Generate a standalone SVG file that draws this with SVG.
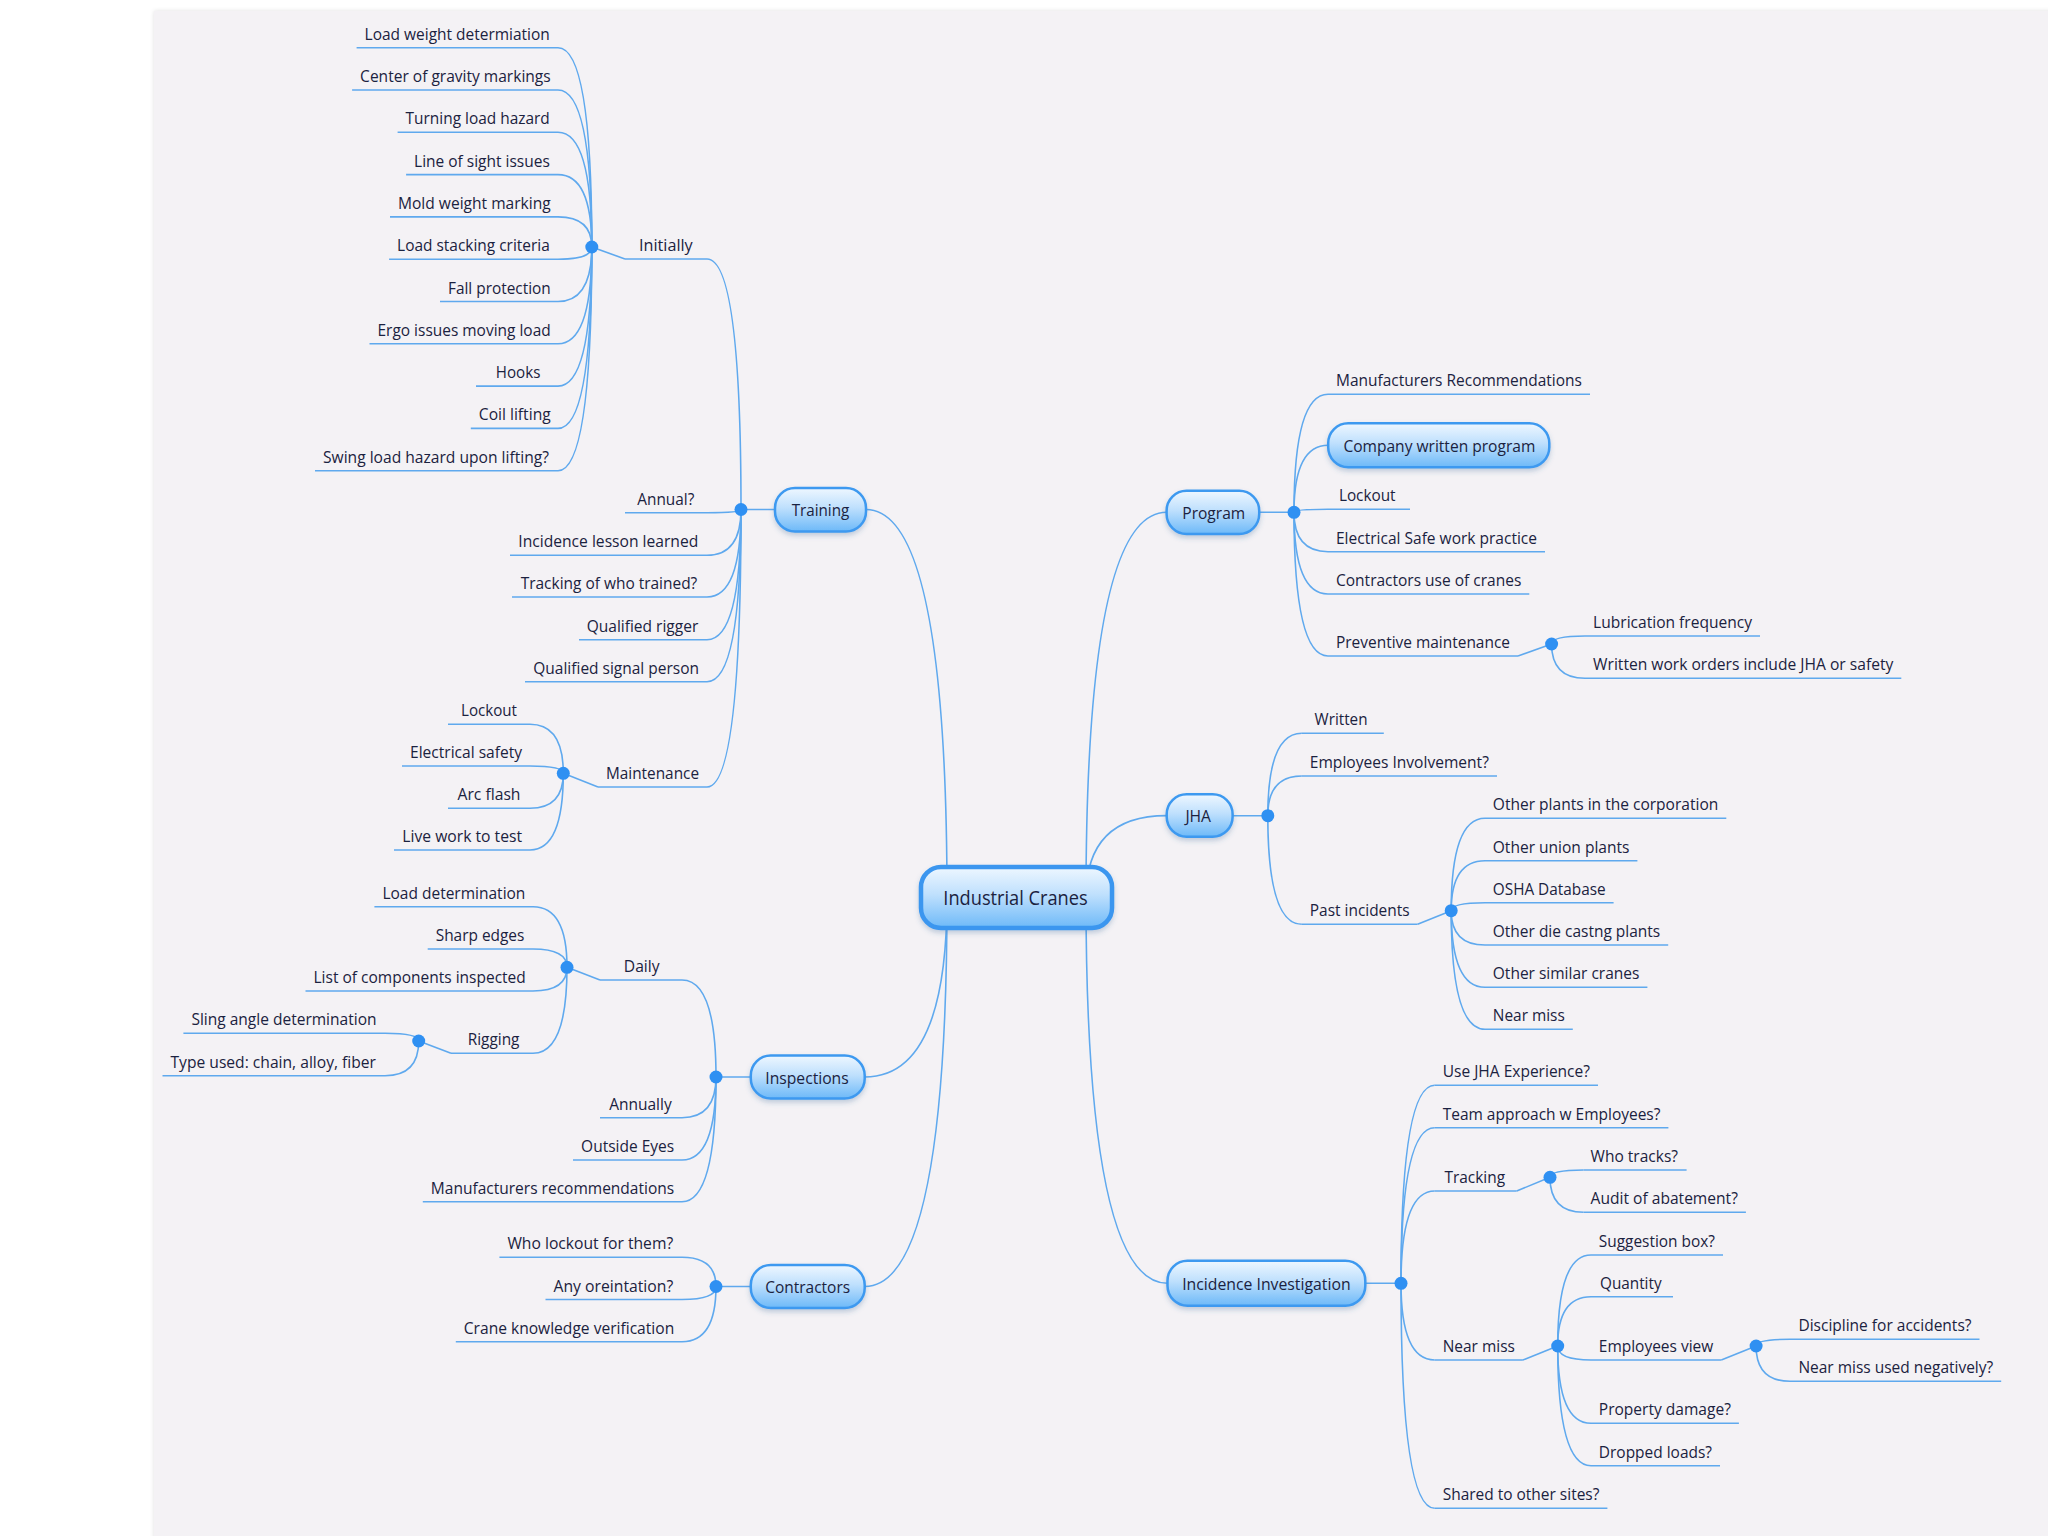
<svg xmlns="http://www.w3.org/2000/svg" width="2048" height="1536" viewBox="0 0 2048 1536">
<defs>
<linearGradient id="gBox" x1="0" y1="0" x2="0" y2="1">
<stop offset="0" stop-color="#eef7ff"/>
<stop offset="0.45" stop-color="#bfe0fd"/>
<stop offset="1" stop-color="#6db9f8"/>
</linearGradient>
<filter id="sh" x="-20%" y="-30%" width="140%" height="170%">
<feDropShadow dx="0" dy="3" stdDeviation="2.5" flood-color="#3a6a9a" flood-opacity="0.28"/>
</filter>
<filter id="bgsh" x="-5%" y="-5%" width="110%" height="110%">
<feDropShadow dx="0" dy="0" stdDeviation="2" flood-color="#000" flood-opacity="0.12"/>
</filter>
</defs>
<style>
.t{font-family:"Open Sans","Noto Sans","DejaVu Sans",sans-serif;font-size:16.5px;fill:#1b2240}
.tc{font-family:"Open Sans","Noto Sans","DejaVu Sans",sans-serif;font-size:20px;fill:#1b2240}
.ul{stroke:#5fa9ee;stroke-width:1.6;fill:none}
.c{stroke:#5fa9ee;stroke-width:1.6;fill:none}
.dot{fill:#2f90f2}
.box{fill:url(#gBox);stroke:#3d99f0;stroke-width:2.5;filter:url(#sh)}
.boxc{fill:url(#gBox);stroke:#3a96ef;stroke-width:4.5;filter:url(#sh)}
</style>
<rect x="0" y="0" width="2048" height="1536" fill="#ffffff"/>
<rect x="154" y="11" width="1900" height="1530" fill="#f4f2f5" filter="url(#bgsh)"/>

<g id="connectors">
<!-- main branches -->
<path class="c" d="M947,897.5 Q947,509.5 866,509.5"/>
<path class="c" d="M947,897.5 Q947,1077 864.7,1077"/>
<path class="c" d="M947,897.5 Q947,1286.5 864.7,1286.5"/>
<path class="c" d="M1086,897.5 Q1086,512.3 1166.6,512.3"/>
<path class="c" d="M1086,897.5 Q1086,815.6 1166.7,815.6"/>
<path class="c" d="M1086,897.5 Q1086,1283.3 1167.5,1283.3"/>
<!-- level1 to junction -->
<path class="c" d="M775,509.5 H741"/>
<path class="c" d="M750.8,1077 H716"/>
<path class="c" d="M750.8,1286.5 H716"/>
<path class="c" d="M1259.2,512.3 H1294"/>
<path class="c" d="M1232.6,815.7 H1267.8"/>
<path class="c" d="M1365.3,1283.3 H1401"/>
<!-- Training children -->
<path class="c" d="M741,509.5 Q741,259 707,259"/>
<path class="c" d="M741,509.5 Q741,512.7 707,512.7"/>
<path class="c" d="M741,509.5 Q741,555.3 707,555.3"/>
<path class="c" d="M741,509.5 Q741,597 707,597"/>
<path class="c" d="M741,509.5 Q741,639.7 707,639.7"/>
<path class="c" d="M741,509.5 Q741,681.7 707,681.7"/>
<path class="c" d="M741,509.5 Q741,787 707,787"/>
<!-- Initially children -->
<path class="c" d="M625,259 L591.8,247"/>
<path class="c" d="M591.8,247 Q591.8,47.7 558,47.7"/>
<path class="c" d="M591.8,247 Q591.8,90 558,90"/>
<path class="c" d="M591.8,247 Q591.8,132.3 558,132.3"/>
<path class="c" d="M591.8,247 Q591.8,174.6 558,174.6"/>
<path class="c" d="M591.8,247 Q591.8,216.9 558,216.9"/>
<path class="c" d="M591.8,247 Q591.8,259.2 558,259.2"/>
<path class="c" d="M591.8,247 Q591.8,301.5 558,301.5"/>
<path class="c" d="M591.8,247 Q591.8,343.8 558,343.8"/>
<path class="c" d="M591.8,247 Q591.8,386.1 558,386.1"/>
<path class="c" d="M591.8,247 Q591.8,428.4 558,428.4"/>
<path class="c" d="M591.8,247 Q591.8,470.7 558,470.7"/>
<!-- Maintenance children -->
<path class="c" d="M598,787 L563.3,773.3"/>
<path class="c" d="M563.3,773.3 Q563.3,724.3 530,724.3"/>
<path class="c" d="M563.3,773.3 Q563.3,766 530,766"/>
<path class="c" d="M563.3,773.3 Q563.3,808.3 530,808.3"/>
<path class="c" d="M563.3,773.3 Q563.3,850 530,850"/>
<!-- Inspections children -->
<path class="c" d="M716,1077 Q716,980 682,980"/>
<path class="c" d="M716,1077 Q716,1117.7 682,1117.7"/>
<path class="c" d="M716,1077 Q716,1160 682,1160"/>
<path class="c" d="M716,1077 Q716,1201.7 682,1201.7"/>
<!-- Daily children -->
<path class="c" d="M600,980 L567,967.3"/>
<path class="c" d="M567,967.3 Q567,906.7 533,906.7"/>
<path class="c" d="M567,967.3 Q567,949 533,949"/>
<path class="c" d="M567,967.3 Q567,991 533,991"/>
<path class="c" d="M567,967.3 Q567,1053.3 533,1053.3"/>
<!-- Rigging children -->
<path class="c" d="M451,1053.3 L418.7,1041"/>
<path class="c" d="M418.7,1041 Q418.7,1033.3 385,1033.3"/>
<path class="c" d="M418.7,1041 Q418.7,1075.7 385,1075.7"/>
<!-- Contractors children -->
<path class="c" d="M716,1286.5 Q716,1257.3 682,1257.3"/>
<path class="c" d="M716,1286.5 Q716,1299.5 682,1299.5"/>
<path class="c" d="M716,1286.5 Q716,1341.7 682,1341.7"/>
<!-- Program children -->
<path class="c" d="M1294,512.3 Q1294,394.3 1328,394.3"/>
<path class="c" d="M1294,512.3 Q1294,445.3 1328.2,445.3"/>
<path class="c" d="M1294,512.3 Q1294,509.3 1328,509.3"/>
<path class="c" d="M1294,512.3 Q1294,551.7 1328,551.7"/>
<path class="c" d="M1294,512.3 Q1294,594 1328,594"/>
<path class="c" d="M1294,512.3 Q1294,656 1328,656"/>
<!-- Preventive maintenance children -->
<path class="c" d="M1518,656 L1551.6,644"/>
<path class="c" d="M1551.6,644 Q1551.6,636 1585,636"/>
<path class="c" d="M1551.6,644 Q1551.6,678.3 1585,678.3"/>
<!-- JHA children -->
<path class="c" d="M1267.8,815.7 Q1267.8,733.3 1301.8,733.3"/>
<path class="c" d="M1267.8,815.7 Q1267.8,776 1301.8,776"/>
<path class="c" d="M1267.8,815.7 Q1267.8,924.3 1301.8,924.3"/>
<!-- Past incidents children -->
<path class="c" d="M1417.6,924.3 L1451.2,910.7"/>
<path class="c" d="M1451.2,910.7 Q1451.2,818.3 1485,818.3"/>
<path class="c" d="M1451.2,910.7 Q1451.2,860.7 1485,860.7"/>
<path class="c" d="M1451.2,910.7 Q1451.2,902.7 1485,902.7"/>
<path class="c" d="M1451.2,910.7 Q1451.2,945 1485,945"/>
<path class="c" d="M1451.2,910.7 Q1451.2,987.3 1485,987.3"/>
<path class="c" d="M1451.2,910.7 Q1451.2,1029.3 1485,1029.3"/>
<!-- Incidence Investigation children -->
<path class="c" d="M1401,1283.3 Q1401,1085.3 1434.7,1085.3"/>
<path class="c" d="M1401,1283.3 Q1401,1127.7 1434.7,1127.7"/>
<path class="c" d="M1401,1283.3 Q1401,1191 1434.7,1191"/>
<path class="c" d="M1401,1283.3 Q1401,1360 1434.7,1360"/>
<path class="c" d="M1401,1283.3 Q1401,1508.3 1434.7,1508.3"/>
<!-- Tracking children -->
<path class="c" d="M1516.7,1191 L1550,1177.3"/>
<path class="c" d="M1550,1177.3 Q1550,1170 1583.5,1170"/>
<path class="c" d="M1550,1177.3 Q1550,1212.3 1583.5,1212.3"/>
<!-- Near miss children -->
<path class="c" d="M1522.9,1360 L1557.7,1346"/>
<path class="c" d="M1557.7,1346 Q1557.7,1255 1591,1255"/>
<path class="c" d="M1557.7,1346 Q1557.7,1296.7 1591,1296.7"/>
<path class="c" d="M1557.7,1346 Q1557.7,1360 1591,1360"/>
<path class="c" d="M1557.7,1346 Q1557.7,1423.3 1591,1423.3"/>
<path class="c" d="M1557.7,1346 Q1557.7,1465.7 1591,1465.7"/>
<!-- Employees view children -->
<path class="c" d="M1721.3,1360 L1756.1,1346"/>
<path class="c" d="M1756.1,1346 Q1756.1,1339.3 1790,1339.3"/>
<path class="c" d="M1756.1,1346 Q1756.1,1381.3 1790,1381.3"/>
<!-- junction dots -->
<circle class="dot" cx="741" cy="509.5" r="6.5"/>
<circle class="dot" cx="591.8" cy="247" r="6.5"/>
<circle class="dot" cx="563.3" cy="773.3" r="6.5"/>
<circle class="dot" cx="716" cy="1077" r="6.5"/>
<circle class="dot" cx="567" cy="967.3" r="6.5"/>
<circle class="dot" cx="418.7" cy="1041" r="6.5"/>
<circle class="dot" cx="716" cy="1286.5" r="6.5"/>
<circle class="dot" cx="1294" cy="512.3" r="6.5"/>
<circle class="dot" cx="1551.6" cy="644" r="6.5"/>
<circle class="dot" cx="1267.8" cy="815.7" r="6.5"/>
<circle class="dot" cx="1451.2" cy="910.7" r="6.5"/>
<circle class="dot" cx="1401" cy="1283.3" r="6.5"/>
<circle class="dot" cx="1550" cy="1177.3" r="6.5"/>
<circle class="dot" cx="1557.7" cy="1346" r="6.5"/>
<circle class="dot" cx="1756.1" cy="1346" r="6.5"/>
</g>

<!-- central and main topics -->
<g id="n-center"><rect class="boxc" x="921" y="867" width="191" height="61" rx="20"/><text class="tc" x="943.3" y="905" textLength="144.4" lengthAdjust="spacingAndGlyphs">Industrial Cranes</text></g>
<g id="n-training"><rect class="box" x="775" y="488" width="91" height="43.5" rx="20"/><text class="t" x="791.7" y="516" textLength="57.6" lengthAdjust="spacingAndGlyphs">Training</text></g>
<g id="n-inspections"><rect class="box" x="750.8" y="1055.5" width="113.9" height="43" rx="20"/><text class="t" x="765.3" y="1083.5" textLength="83.4" lengthAdjust="spacingAndGlyphs">Inspections</text></g>
<g id="n-contractors"><rect class="box" x="750.8" y="1265" width="113.9" height="43" rx="20"/><text class="t" x="765.3" y="1293" textLength="84.8" lengthAdjust="spacingAndGlyphs">Contractors</text></g>
<g id="n-program"><rect class="box" x="1166.6" y="490.7" width="92.6" height="43.3" rx="20"/><text class="t" x="1182.3" y="518.8" textLength="62.9" lengthAdjust="spacingAndGlyphs">Program</text></g>
<g id="n-jha"><rect class="box" x="1166.7" y="794.3" width="65.9" height="42.4" rx="20"/><text class="t" x="1185.4" y="822" textLength="25.6" lengthAdjust="spacingAndGlyphs">JHA</text></g>
<g id="n-incidence"><rect class="box" x="1167.5" y="1260.7" width="197.8" height="45" rx="20"/><text class="t" x="1182.2" y="1289.5" textLength="168.4" lengthAdjust="spacingAndGlyphs">Incidence Investigation</text></g>
<g id="n-company-program"><rect class="box" x="1328.2" y="423.3" width="221.1" height="44" rx="20"/><text class="t" x="1343.4" y="451.5" textLength="191.9" lengthAdjust="spacingAndGlyphs">Company written program</text></g>

<!-- Training branch -->
<g id="n-initially"><line class="ul" x1="625" y1="259" x2="707" y2="259"/><text class="t" x="639" y="251" textLength="53.7" lengthAdjust="spacingAndGlyphs">Initially</text></g>
<g id="n-load-weight"><line class="ul" x1="356.6" y1="47.7" x2="558" y2="47.7"/><text class="t" x="364.6" y="39.7" textLength="185.2" lengthAdjust="spacingAndGlyphs">Load weight determiation</text></g>
<g id="n-cog"><line class="ul" x1="352.1" y1="90" x2="558" y2="90"/><text class="t" x="360.1" y="82" textLength="190.6" lengthAdjust="spacingAndGlyphs">Center of gravity markings</text></g>
<g id="n-turning"><line class="ul" x1="397.6" y1="132.3" x2="558" y2="132.3"/><text class="t" x="405.6" y="124.3" textLength="144.2" lengthAdjust="spacingAndGlyphs">Turning load hazard</text></g>
<g id="n-sight"><line class="ul" x1="406.1" y1="174.6" x2="558" y2="174.6"/><text class="t" x="414.1" y="166.6" textLength="135.7" lengthAdjust="spacingAndGlyphs">Line of sight issues</text></g>
<g id="n-mold"><line class="ul" x1="390" y1="216.9" x2="558" y2="216.9"/><text class="t" x="398" y="208.9" textLength="152.7" lengthAdjust="spacingAndGlyphs">Mold weight marking</text></g>
<g id="n-stacking"><line class="ul" x1="389.1" y1="259.2" x2="558" y2="259.2"/><text class="t" x="397.1" y="251.2" textLength="152.7" lengthAdjust="spacingAndGlyphs">Load stacking criteria</text></g>
<g id="n-fall"><line class="ul" x1="440" y1="301.5" x2="558" y2="301.5"/><text class="t" x="448" y="293.5" textLength="102.7" lengthAdjust="spacingAndGlyphs">Fall protection</text></g>
<g id="n-ergo"><line class="ul" x1="369.5" y1="343.8" x2="558" y2="343.8"/><text class="t" x="377.5" y="335.8" textLength="173.2" lengthAdjust="spacingAndGlyphs">Ergo issues moving load</text></g>
<g id="n-hooks"><line class="ul" x1="476" y1="386.1" x2="558" y2="386.1"/><text class="t" x="495.8" y="378.1" textLength="44.6" lengthAdjust="spacingAndGlyphs">Hooks</text></g>
<g id="n-coil"><line class="ul" x1="470.8" y1="428.4" x2="558" y2="428.4"/><text class="t" x="478.8" y="420.4" textLength="71.9" lengthAdjust="spacingAndGlyphs">Coil lifting</text></g>
<g id="n-swing"><line class="ul" x1="315" y1="470.7" x2="558" y2="470.7"/><text class="t" x="323" y="462.7" textLength="225.9" lengthAdjust="spacingAndGlyphs">Swing load hazard upon lifting?</text></g>
<g id="n-annual"><line class="ul" x1="625" y1="512.7" x2="707" y2="512.7"/><text class="t" x="637.3" y="504.7" textLength="57" lengthAdjust="spacingAndGlyphs">Annual?</text></g>
<g id="n-lesson"><line class="ul" x1="510" y1="555.3" x2="707" y2="555.3"/><text class="t" x="518.3" y="547.3" textLength="180" lengthAdjust="spacingAndGlyphs">Incidence lesson learned</text></g>
<g id="n-tracking-trained"><line class="ul" x1="512" y1="597" x2="707" y2="597"/><text class="t" x="520.7" y="589" textLength="176.6" lengthAdjust="spacingAndGlyphs">Tracking of who trained?</text></g>
<g id="n-rigger"><line class="ul" x1="579" y1="639.7" x2="707" y2="639.7"/><text class="t" x="586.7" y="631.7" textLength="111.6" lengthAdjust="spacingAndGlyphs">Qualified rigger</text></g>
<g id="n-signal"><line class="ul" x1="525" y1="681.7" x2="707" y2="681.7"/><text class="t" x="533.3" y="673.7" textLength="165.7" lengthAdjust="spacingAndGlyphs">Qualified signal person</text></g>
<g id="n-maintenance"><line class="ul" x1="598" y1="787" x2="707" y2="787"/><text class="t" x="606" y="779" textLength="93" lengthAdjust="spacingAndGlyphs">Maintenance</text></g>
<g id="n-m-lockout"><line class="ul" x1="448" y1="724.3" x2="530" y2="724.3"/><text class="t" x="461" y="716.3" textLength="56" lengthAdjust="spacingAndGlyphs">Lockout</text></g>
<g id="n-m-electrical"><line class="ul" x1="402" y1="766" x2="530" y2="766"/><text class="t" x="410" y="758" textLength="112" lengthAdjust="spacingAndGlyphs">Electrical safety</text></g>
<g id="n-m-arc"><line class="ul" x1="448" y1="808.3" x2="530" y2="808.3"/><text class="t" x="457.5" y="800.3" textLength="63" lengthAdjust="spacingAndGlyphs">Arc flash</text></g>
<g id="n-m-live"><line class="ul" x1="394" y1="850" x2="530" y2="850"/><text class="t" x="402.3" y="842" textLength="119.7" lengthAdjust="spacingAndGlyphs">Live work to test</text></g>

<!-- Inspections branch -->
<g id="n-daily"><line class="ul" x1="600" y1="980" x2="682" y2="980"/><text class="t" x="623.8" y="972" textLength="35.8" lengthAdjust="spacingAndGlyphs">Daily</text></g>
<g id="n-load-det"><line class="ul" x1="374.4" y1="906.7" x2="533" y2="906.7"/><text class="t" x="382.4" y="898.7" textLength="143" lengthAdjust="spacingAndGlyphs">Load determination</text></g>
<g id="n-sharp"><line class="ul" x1="427.7" y1="949" x2="533" y2="949"/><text class="t" x="435.7" y="941" textLength="88.7" lengthAdjust="spacingAndGlyphs">Sharp edges</text></g>
<g id="n-components"><line class="ul" x1="305.5" y1="991" x2="533" y2="991"/><text class="t" x="313.5" y="983" textLength="212.3" lengthAdjust="spacingAndGlyphs">List of components inspected</text></g>
<g id="n-rigging"><line class="ul" x1="451" y1="1053.3" x2="533" y2="1053.3"/><text class="t" x="467.7" y="1045.3" textLength="51.8" lengthAdjust="spacingAndGlyphs">Rigging</text></g>
<g id="n-sling"><line class="ul" x1="183.4" y1="1033.3" x2="385" y2="1033.3"/><text class="t" x="191.4" y="1025.3" textLength="185.1" lengthAdjust="spacingAndGlyphs">Sling angle determination</text></g>
<g id="n-type"><line class="ul" x1="162.5" y1="1075.7" x2="385" y2="1075.7"/><text class="t" x="170.5" y="1067.7" textLength="205.5" lengthAdjust="spacingAndGlyphs">Type used: chain, alloy, fiber</text></g>
<g id="n-annually"><line class="ul" x1="600" y1="1117.7" x2="682" y2="1117.7"/><text class="t" x="609.2" y="1109.7" textLength="62.5" lengthAdjust="spacingAndGlyphs">Annually</text></g>
<g id="n-outside"><line class="ul" x1="573" y1="1160" x2="682" y2="1160"/><text class="t" x="581.1" y="1152" textLength="93.1" lengthAdjust="spacingAndGlyphs">Outside Eyes</text></g>
<g id="n-manuf-recs"><line class="ul" x1="422.8" y1="1201.7" x2="682" y2="1201.7"/><text class="t" x="430.8" y="1193.7" textLength="243.4" lengthAdjust="spacingAndGlyphs">Manufacturers recommendations</text></g>

<!-- Contractors branch -->
<g id="n-who-lockout"><line class="ul" x1="499.4" y1="1257.3" x2="682" y2="1257.3"/><text class="t" x="507.4" y="1249.3" textLength="165.8" lengthAdjust="spacingAndGlyphs">Who lockout for them?</text></g>
<g id="n-orientation"><line class="ul" x1="545.5" y1="1299.5" x2="682" y2="1299.5"/><text class="t" x="553.5" y="1291.5" textLength="119.7" lengthAdjust="spacingAndGlyphs">Any oreintation?</text></g>
<g id="n-crane-knowledge"><line class="ul" x1="455.8" y1="1341.7" x2="682" y2="1341.7"/><text class="t" x="463.8" y="1333.7" textLength="210.4" lengthAdjust="spacingAndGlyphs">Crane knowledge verification</text></g>

<!-- Program branch -->
<g id="n-manuf-Recs"><line class="ul" x1="1328" y1="394.3" x2="1590" y2="394.3"/><text class="t" x="1336.1" y="386.3" textLength="245.8" lengthAdjust="spacingAndGlyphs">Manufacturers Recommendations</text></g>
<g id="n-p-lockout"><line class="ul" x1="1328" y1="509.3" x2="1410" y2="509.3"/><text class="t" x="1338.9" y="501.3" textLength="56.7" lengthAdjust="spacingAndGlyphs">Lockout</text></g>
<g id="n-electrical-safe"><line class="ul" x1="1328" y1="551.7" x2="1545" y2="551.7"/><text class="t" x="1336" y="543.7" textLength="201" lengthAdjust="spacingAndGlyphs">Electrical Safe work practice</text></g>
<g id="n-contractors-use"><line class="ul" x1="1328" y1="594" x2="1529.3" y2="594"/><text class="t" x="1336" y="586" textLength="185.3" lengthAdjust="spacingAndGlyphs">Contractors use of cranes</text></g>
<g id="n-preventive"><line class="ul" x1="1328" y1="656" x2="1518" y2="656"/><text class="t" x="1336" y="648" textLength="174" lengthAdjust="spacingAndGlyphs">Preventive maintenance</text></g>
<g id="n-lubrication"><line class="ul" x1="1585" y1="636" x2="1760" y2="636"/><text class="t" x="1593.1" y="628" textLength="158.9" lengthAdjust="spacingAndGlyphs">Lubrication frequency</text></g>
<g id="n-work-orders"><line class="ul" x1="1585" y1="678.3" x2="1901.3" y2="678.3"/><text class="t" x="1593.1" y="670.3" textLength="300.2" lengthAdjust="spacingAndGlyphs">Written work orders include JHA or safety</text></g>

<!-- JHA branch -->
<g id="n-written"><line class="ul" x1="1301.8" y1="733.3" x2="1383.8" y2="733.3"/><text class="t" x="1314.6" y="725.3" textLength="52.9" lengthAdjust="spacingAndGlyphs">Written</text></g>
<g id="n-employees-inv"><line class="ul" x1="1301.8" y1="776" x2="1497" y2="776"/><text class="t" x="1309.8" y="768" textLength="179.1" lengthAdjust="spacingAndGlyphs">Employees Involvement?</text></g>
<g id="n-past"><line class="ul" x1="1301.8" y1="924.3" x2="1417.6" y2="924.3"/><text class="t" x="1309.8" y="916.3" textLength="99.8" lengthAdjust="spacingAndGlyphs">Past incidents</text></g>
<g id="n-other-plants"><line class="ul" x1="1485" y1="818.3" x2="1726.3" y2="818.3"/><text class="t" x="1492.8" y="810.3" textLength="225.5" lengthAdjust="spacingAndGlyphs">Other plants in the corporation</text></g>
<g id="n-union"><line class="ul" x1="1485" y1="860.7" x2="1637.4" y2="860.7"/><text class="t" x="1492.8" y="852.7" textLength="136.6" lengthAdjust="spacingAndGlyphs">Other union plants</text></g>
<g id="n-osha"><line class="ul" x1="1485" y1="902.7" x2="1613.6" y2="902.7"/><text class="t" x="1492.8" y="894.7" textLength="112.8" lengthAdjust="spacingAndGlyphs">OSHA Database</text></g>
<g id="n-die"><line class="ul" x1="1485" y1="945" x2="1668.2" y2="945"/><text class="t" x="1492.8" y="937" textLength="167.4" lengthAdjust="spacingAndGlyphs">Other die castng plants</text></g>
<g id="n-similar"><line class="ul" x1="1485" y1="987.3" x2="1647.4" y2="987.3"/><text class="t" x="1492.8" y="979.3" textLength="146.6" lengthAdjust="spacingAndGlyphs">Other similar cranes</text></g>
<g id="n-pi-nearmiss"><line class="ul" x1="1485" y1="1029.3" x2="1572.8" y2="1029.3"/><text class="t" x="1492.8" y="1021.3" textLength="72" lengthAdjust="spacingAndGlyphs">Near miss</text></g>

<!-- Incidence Investigation branch -->
<g id="n-use-jha"><line class="ul" x1="1434.7" y1="1085.3" x2="1598" y2="1085.3"/><text class="t" x="1442.7" y="1077.3" textLength="147.3" lengthAdjust="spacingAndGlyphs">Use JHA Experience?</text></g>
<g id="n-team"><line class="ul" x1="1434.7" y1="1127.7" x2="1668.4" y2="1127.7"/><text class="t" x="1442.7" y="1119.7" textLength="217.7" lengthAdjust="spacingAndGlyphs">Team approach w Employees?</text></g>
<g id="n-tracking"><line class="ul" x1="1434.7" y1="1191" x2="1516.7" y2="1191"/><text class="t" x="1444.5" y="1183" textLength="60.5" lengthAdjust="spacingAndGlyphs">Tracking</text></g>
<g id="n-who-tracks"><line class="ul" x1="1583.5" y1="1170" x2="1686.6" y2="1170"/><text class="t" x="1590.6" y="1162" textLength="87.4" lengthAdjust="spacingAndGlyphs">Who tracks?</text></g>
<g id="n-audit"><line class="ul" x1="1583.5" y1="1212.3" x2="1745.9" y2="1212.3"/><text class="t" x="1590.6" y="1204.3" textLength="147.3" lengthAdjust="spacingAndGlyphs">Audit of abatement?</text></g>
<g id="n-nearmiss"><line class="ul" x1="1434.7" y1="1360" x2="1522.9" y2="1360"/><text class="t" x="1442.7" y="1352" textLength="72.2" lengthAdjust="spacingAndGlyphs">Near miss</text></g>
<g id="n-suggestion"><line class="ul" x1="1591" y1="1255" x2="1723" y2="1255"/><text class="t" x="1598.8" y="1247" textLength="116.2" lengthAdjust="spacingAndGlyphs">Suggestion box?</text></g>
<g id="n-quantity"><line class="ul" x1="1591" y1="1296.7" x2="1673" y2="1296.7"/><text class="t" x="1600" y="1288.7" textLength="61.6" lengthAdjust="spacingAndGlyphs">Quantity</text></g>
<g id="n-employees-view"><line class="ul" x1="1591" y1="1360" x2="1721.3" y2="1360"/><text class="t" x="1598.8" y="1352" textLength="114.5" lengthAdjust="spacingAndGlyphs">Employees view</text></g>
<g id="n-discipline"><line class="ul" x1="1790" y1="1339.3" x2="1979.5" y2="1339.3"/><text class="t" x="1798.4" y="1331.3" textLength="173.1" lengthAdjust="spacingAndGlyphs">Discipline for accidents?</text></g>
<g id="n-negatively"><line class="ul" x1="1790" y1="1381.3" x2="2001.2" y2="1381.3"/><text class="t" x="1798.4" y="1373.3" textLength="194.8" lengthAdjust="spacingAndGlyphs">Near miss used negatively?</text></g>
<g id="n-property"><line class="ul" x1="1591" y1="1423.3" x2="1738.9" y2="1423.3"/><text class="t" x="1598.8" y="1415.3" textLength="132.1" lengthAdjust="spacingAndGlyphs">Property damage?</text></g>
<g id="n-dropped"><line class="ul" x1="1591" y1="1465.7" x2="1720" y2="1465.7"/><text class="t" x="1598.8" y="1457.7" textLength="113.2" lengthAdjust="spacingAndGlyphs">Dropped loads?</text></g>
<g id="n-shared"><line class="ul" x1="1434.7" y1="1508.3" x2="1607.4" y2="1508.3"/><text class="t" x="1442.7" y="1500.3" textLength="156.7" lengthAdjust="spacingAndGlyphs">Shared to other sites?</text></g>
</svg>
